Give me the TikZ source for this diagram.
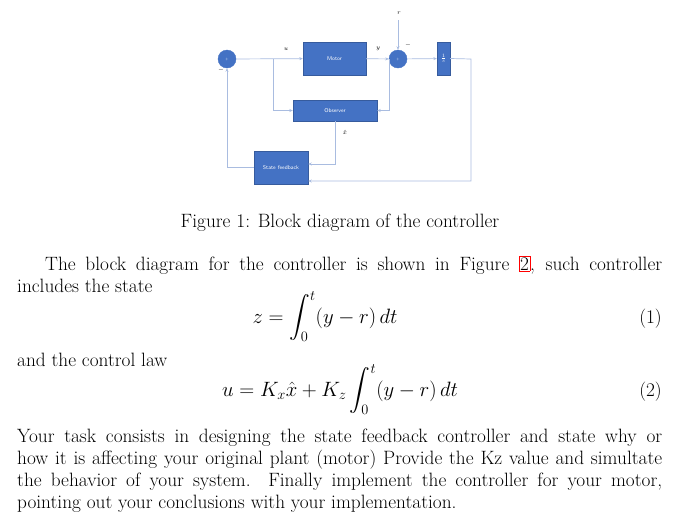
\documentclass[tikz,border=0pt]{standalone}
\usepackage{amsmath}
\usetikzlibrary{arrows.meta}
\definecolor{bl}{HTML}{4472C4}
\definecolor{ln}{HTML}{A9BCE0}
\begin{document}
\begin{tikzpicture}[x=1pt,y=-1pt,
 blk/.style={draw=bl!80!black,line width=0.4pt,fill=bl,text=white,font=\sffamily\fontsize{5.5}{6}\selectfont,inner sep=0,minimum width=#1},
 sm/.style={circle,fill=bl,draw=bl,minimum size=18pt,inner sep=0,text=white,font=\sffamily\fontsize{4}{5}\selectfont},
 wire/.style={draw=ln,line width=0.7pt},
 arr/.style={wire,-{Stealth[length=3.5pt,width=3pt]}},
 lab/.style={font=\fontsize{6.5}{7}\selectfont,inner sep=0},
 txt/.style={anchor=base west,inner sep=0,font=\fontsize{19.3}{24}\selectfont}]
\useasboundingbox (0,0) rectangle (700,523);
\node[sm] (s1) at (227,59) {+};
\node[sm] (s2) at (398,59) {+};
\node[blk=63pt,minimum height=33pt] (m) at (334.5,58.5) {Motor};
\node[blk=13pt,minimum height=33pt] (i) at (443.5,58.5) {};
\node[font=\fontsize{4}{4}\selectfont,text=white,inner sep=0] at (443.5,58.5) {$\frac{1}{s}$};
\node[blk=84pt,minimum height=21pt] (o) at (335,110.5) {Observer};
\node[blk=54pt,minimum height=33pt] (f) at (281,167.5) {State feedback};
\coordinate (r) at (398,20);
\node[lab] at (399,13) {$r$};
\node[lab] at (286,49) {$u$};
\node[lab] at (378,49) {$y$};
\node[lab] at (408,45) {$-$};
\node[lab] at (221,70) {$-$};
\node[lab] at (345,132) {$\hat x$};
\draw[arr] (s1) -- (m);
\draw[arr] (273,59) |- (o.west);
\draw[arr] (m) -- (s2);
\draw[arr] (389,59) |- (o.east);
\draw[arr] (r) -- (s2);
\draw[arr] (s2) -- (i);
\draw[arr] (i.east) -- (471,59) |- (f.east|-0,181);
\draw[arr] (o.south-|335,0) |- (f.east|-0,164);
\draw[arr] (f.west) -| (s1.south);
\node[font=\fontsize{19.3}{24}\selectfont,inner sep=0,anchor=base] at (340,227) {Figure 1: Block diagram of the controller};
\node[txt] at (45,270) {\hbox to 617pt{The block diagram for the controller is shown in Figure {\fboxsep=0.5pt\fboxrule=0.6pt\fcolorbox{red}{white}{2}}, such controller}};
\node[txt] at (17,292) {includes the state};
\node[txt,anchor=base] at (325,323) {$\displaystyle z=\int_0^t (y-r)\,dt$};
\node[txt,anchor=base east] at (662,323) {(1)};
\node[txt] at (17,366) {and the control law};
\node[txt,anchor=base] at (340,396) {$\displaystyle u=K_x\hat{x}+K_z\int_0^t (y-r)\,dt$};
\node[txt,anchor=base east] at (662,396) {(2)};
\node[txt] at (17,442) {\hbox to 645pt{Your task consists in designing the state feedback controller and state why or}};
\node[txt] at (17,464) {\hbox to 645pt{how it is affecting your original plant (motor) Provide the Kz value and simultate}};
\node[txt] at (17,486) {\hbox to 645pt{the behavior of your system. Finally implement the controller for your motor,}};
\node[txt] at (17,508) {pointing out your conclusions with your implementation.};
\end{tikzpicture}
\end{document}
